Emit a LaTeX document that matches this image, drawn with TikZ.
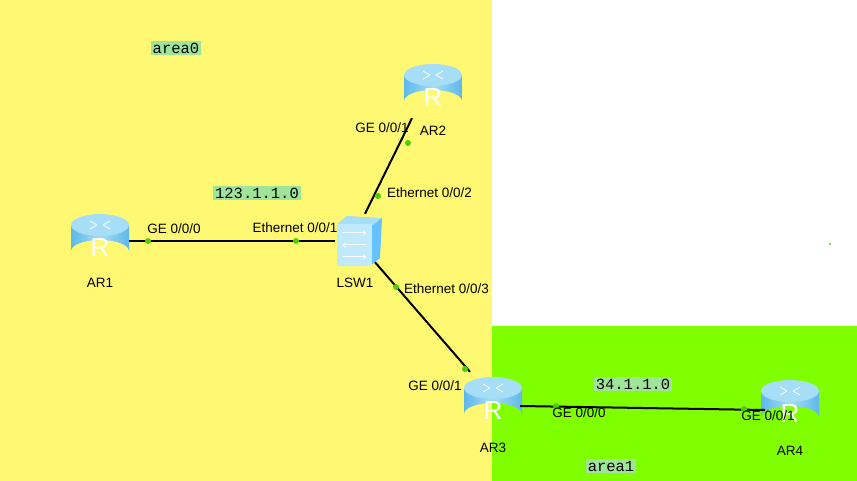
\documentclass[tikz,border=0pt]{standalone}
\usepackage{fontspec}
\usetikzlibrary{calc}
\setmainfont{Liberation Sans}
\setmonofont{Liberation Mono}
\begin{document}
\begin{tikzpicture}[x=1pt,y=-1pt,
  dev/.style={minimum width=58pt,minimum height=50pt,inner sep=0pt},
  port/.style={circle,fill=green!70!black!60!lime,inner sep=0pt,minimum size=6pt},
  lbl/.style={font=\fontsize{13.5}{13.5}\selectfont,inner sep=1pt},
  net/.style={fill=netc,font=\ttfamily\fontsize{15.5}{15.5}\selectfont,inner sep=2pt},
  link/.style={line width=2pt}]
\definecolor{netc}{HTML}{9EE59A}
\definecolor{rb}{HTML}{5DB8EA}\definecolor{rt}{HTML}{A6DDF7}
\useasboundingbox (0,0) rectangle (857,481);
\fill[yellow!55!white] (0,0) rectangle (492,481);
\definecolor{grn}{HTML}{7FFF00}
\fill[grn] (492,326) rectangle (857,481);
\tikzset{pics/router/.style={code={
  \shade[left color=rb,right color=rb,middle color=rt] (-29,-12) -- (-29,14) arc[start angle=180,end angle=360,x radius=29,y radius=11] -- (29,-12) -- cycle;
  \fill[rt] (0,-12) ellipse[x radius=29,y radius=11];
  \draw[white,line width=0.8pt] (-10,-16)--(-3,-12) (10,-16)--(3,-12) (-10,-8)--(-3,-12) (10,-8)--(3,-12);
  \node[white,font=\fontsize{26}{26}\selectfont] at (0,11) {R};}}}
\node[dev] (ar1) at (100,237) {}; \pic at (ar1) {router};
\node[dev] (ar2) at (433,87) {}; \pic at (ar2) {router};
\node[dev] (ar3) at (493,400) {}; \pic at (ar3) {router};
\node[dev] (ar4) at (790,403) {}; \pic at (ar4) {router};
\node[minimum width=44pt,minimum height=48pt,inner sep=0pt] (lsw) at (357,240) {};
\fill[rt] (337,224) -- (347,216) -- (382,218) -- (372,226) -- cycle;
\fill[blue!40!cyan!60] (372,226) -- (382,218) -- (380,258) -- (370,266) -- cycle;
\fill[cyan!25] (337,224) rectangle (372,266);
\draw[white,line width=1pt,->] (343,233)--(366,233);
\draw[white,line width=1pt,<-] (343,245)--(366,245);
\draw[white,line width=1pt,->] (343,257)--(366,257);
\draw[link] (ar1.east |- 0,241) -- (lsw.west |- 0,241);
\node[port] at (148,241) {}; \node[port] at (296,241) {};
\draw[link] ($(lsw.north)+(8,-2)$) -- ($(ar2.south)+(-21,6)$);
\node[port] at (408,143) {}; \node[port] at (378,196) {};
\draw[link] ($(lsw.south)+(18,-2)$) -- ($(ar3.north)+(-23,-3)$);
\node[port] at (396,287) {}; \node[port] at (465,369) {};
\draw[link] ($(ar3.east)+(-2,6)$) -- ($(ar4.west)+(4,7)$);
\node[port] at (556,406) {}; \node[port] at (744,409) {};
\fill[green!70!black!60!lime] (830,244) circle (1.2);
\node[lbl] at (100,283) {AR1};
\node[lbl] at (433,131) {AR2};
\node[lbl] at (355,283) {LSW1};
\node[lbl] at (493,448) {AR3};
\node[lbl] at (790,451) {AR4};
\node[lbl] at (174,229) {GE 0/0/0};
\node[lbl] at (295,228) {Ethernet 0/0/1};
\node[lbl] at (382,128) {GE 0/0/1};
\node[lbl,anchor=west] at (386,193) {Ethernet 0/0/2};
\node[lbl,anchor=west] at (403,289) {Ethernet 0/0/3};
\node[lbl] at (435,386) {GE 0/0/1};
\node[lbl] at (579,413) {GE 0/0/0};
\node[lbl] at (768,416) {GE 0/0/1};
\node[net] at (176,48) {area0};
\node[net] at (257,193) {123.1.1.0};
\node[net] at (633,384) {34.1.1.0};
\node[net] at (611,466) {area1};
\end{tikzpicture}
\end{document}
